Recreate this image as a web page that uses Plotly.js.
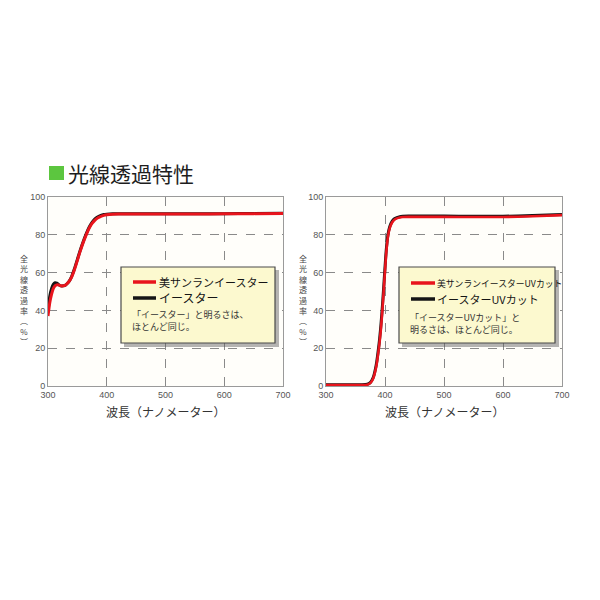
<!DOCTYPE html>
<html><head><meta charset="utf-8">
<script src="https://cdn.plot.ly/plotly-3.0.1.min.js"></script>
<style>body{margin:0;background:#fff}#c{width:600px;height:600px}</style>
</head><body><div id="c"></div>
<script>
// ---- data ----
const wlLeft = [300,303,306,309,312,315,318,322,326,330,335,340,345,350,355,360,365,370,375,380,385,390,395,400,410,420,450,500,550,600,650,700];
const redLeft = [37,44,48.5,51.5,53,53.5,53.5,53,53,53.5,55,57.5,61.5,66.5,71.5,76,80,83.5,86,87.8,89,89.8,90.3,90.6,90.9,91,91,91,91,91.1,91.2,91.3];
const blackLeft = [39,47.5,51.5,53.8,54.6,54.4,53.7,53,53,53.5,55,57.8,62,67,72,76.5,80.5,84,86.6,88.4,89.6,90.3,90.7,90.9,91.1,91.1,91.1,91.1,91.1,91.2,91.3,91.4];
const wlRight = [300,320,340,360,370,375,380,385,390,393,396,399,402,405,408,412,416,420,425,430,440,450,500,550,600,650,700];
const redRight = [0.5,0.5,0.5,0.5,0.7,1.5,4,10,21,30,42,56,70,79,83.5,86.5,88,88.7,89.2,89.4,89.5,89.5,89.5,89.4,89.4,89.8,90.4];
const blackRight = [0.7,0.7,0.7,0.7,0.9,1.8,4.5,11,22.5,32,44,58,71.5,80,84.3,87.1,88.5,89.1,89.6,89.8,89.9,89.9,89.9,89.8,89.8,90.2,90.8];
const xTicks = [300,400,500,600,700];
const yTicks = [0,20,40,60,80,100];
const chartTitle = '光線透過特性';
const xTitle = '波長（ナノメーター）';
const yTitleChars = ['全','光','線','透','過','率','︵','%','︶'];
const legendLeft = ['美サンランイースター','イースター'];
const noteLeft = ['「イースター」と明るさは、','ほとんど同じ。'];
const legendRight = ['美サンランイースターUVカット','イースターUVカット'];
const noteRight = ['「イースターUVカット」と','明るさは、ほとんど同じ。'];

const JP = '"Noto Sans CJK JP", "Noto Sans", sans-serif';
const NUM = '"Liberation Sans", Arial, sans-serif';
const W = 600, H = 600;
const px = x => x / W, py = y => 1 - y / H;

const traces = [
  {x: wlLeft, y: blackLeft, xaxis:'x', yaxis:'y', mode:'lines', line:{color:'#151515', width:3, shape:'spline', smoothing:0.8}, hoverinfo:'skip'},
  {x: wlLeft, y: redLeft, xaxis:'x', yaxis:'y', mode:'lines', line:{color:'#e8141c', width:3, shape:'spline', smoothing:0.8}, hoverinfo:'skip'},
  {x: wlRight, y: blackRight, xaxis:'x2', yaxis:'y2', mode:'lines', line:{color:'#151515', width:3, shape:'spline', smoothing:0.6}, hoverinfo:'skip'},
  {x: wlRight, y: redRight, xaxis:'x2', yaxis:'y2', mode:'lines', line:{color:'#e8141c', width:2.6, shape:'spline', smoothing:0.6}, hoverinfo:'skip'}
];

function xa(dom){return {domain:dom, range:[300,700], tickvals:xTicks, ticktext:xTicks.map(String), showgrid:true, gridcolor:'#8a8a8a', griddash:'dash', gridwidth:1, showline:true, mirror:true, linecolor:'#9a9a9a', linewidth:1, zeroline:false, ticks:'', tickfont:{family:NUM, size:9, color:'#555'}, fixedrange:true};}
function ya(dom, anchor){return {domain:dom, anchor:anchor, range:[0,100], tickvals:yTicks, ticktext:yTicks.map(String), showgrid:true, gridcolor:'#8a8a8a', griddash:'dash', gridwidth:1, showline:true, mirror:true, linecolor:'#9a9a9a', linewidth:1, zeroline:false, ticks:'', tickfont:{family:NUM, size:9, color:'#555'}, fixedrange:true};}

const yDom = [py(386), py(197)];
const layout = {
  width:W, height:H, margin:{l:0,r:0,t:0,b:0}, showlegend:false,
  paper_bgcolor:'#ffffff', plot_bgcolor:'#fffefa',
  xaxis: Object.assign(xa([px(48), px(283)]), {anchor:'y'}),
  yaxis: ya(yDom, 'x'),
  xaxis2: Object.assign(xa([px(326), px(562)]), {anchor:'y2'}),
  yaxis2: ya(yDom, 'x2'),
  shapes: [], annotations: []
};

const S = layout.shapes, A = layout.annotations;
function ann(x, y, text, size, opts){
  A.push(Object.assign({xref:'paper', yref:'paper', x:px(x), y:py(y), text:text, showarrow:false, xanchor:'left', yanchor:'middle', align:'left', borderpad:0, font:{family:JP, size:size, color:'#222'}}, opts||{}));
}
function rect(x0,y0,x1,y1,fill,line){S.push({type:'rect', xref:'paper', yref:'paper', x0:px(x0), x1:px(x1), y0:py(y0), y1:py(y1), fillcolor:fill, line:line||{width:0}, layer:'above'});}
function seg(x0,x1,y,color){S.push({type:'line', xref:'paper', yref:'paper', x0:px(x0), x1:px(x1), y0:py(y), y1:py(y), line:{color:color, width:3.5}, layer:'above'});}

// title
rect(49,166,64,180,'#5cc63f');
ann(67,173,chartTitle,21,{font:{family:JP, size:21, color:'#1e1e1e'}});

// axis titles
ann(165,411,xTitle,12,{xanchor:'center', align:'center', font:{family:JP, size:12, color:'#333'}});
ann(444,411,xTitle,12,{xanchor:'center', align:'center', font:{family:JP, size:12, color:'#333'}});
[24, 303].forEach(cx => {
  ann(cx, 300, yTitleChars.join('<br>'), 8, {xanchor:'center', align:'center', font:{family:JP, size:8, color:'#444'}});
});

// legend boxes
function box(x0,y0,x1,y1){
  rect(x0+3,y0+3,x1+4,y1+4,'rgba(90,90,90,0.45)');
  rect(x0,y0,x1,y1,'#fcf9cf',{color:'#4a4a4a', width:1.2});
}
box(121,267,275,343);
seg(133,156,282,'#e8141c'); seg(133,156,298,'#151515');
ann(158,282,legendLeft[0],11,{font:{family:JP, size:11, color:'#151515'}});
ann(158,298,legendLeft[1],12,{font:{family:JP, size:12, color:'#151515'}});
ann(131,320,noteLeft.join('<br>'),9,{font:{family:JP, size:9, color:'#333'}});

box(399,267,555,343);
seg(411,435,283,'#e8141c'); seg(411,435,299,'#151515');
ann(436,283,legendRight[0],8.8,{font:{family:JP, size:8.8, color:'#151515'}});
ann(436,299,legendRight[1],11,{font:{family:JP, size:11, color:'#151515'}});
ann(409,323,noteRight.join('<br>'),9,{font:{family:JP, size:9, color:'#333'}});

Plotly.newPlot('c', traces, layout, {staticPlot:true, displayModeBar:false});
</script></body></html>
